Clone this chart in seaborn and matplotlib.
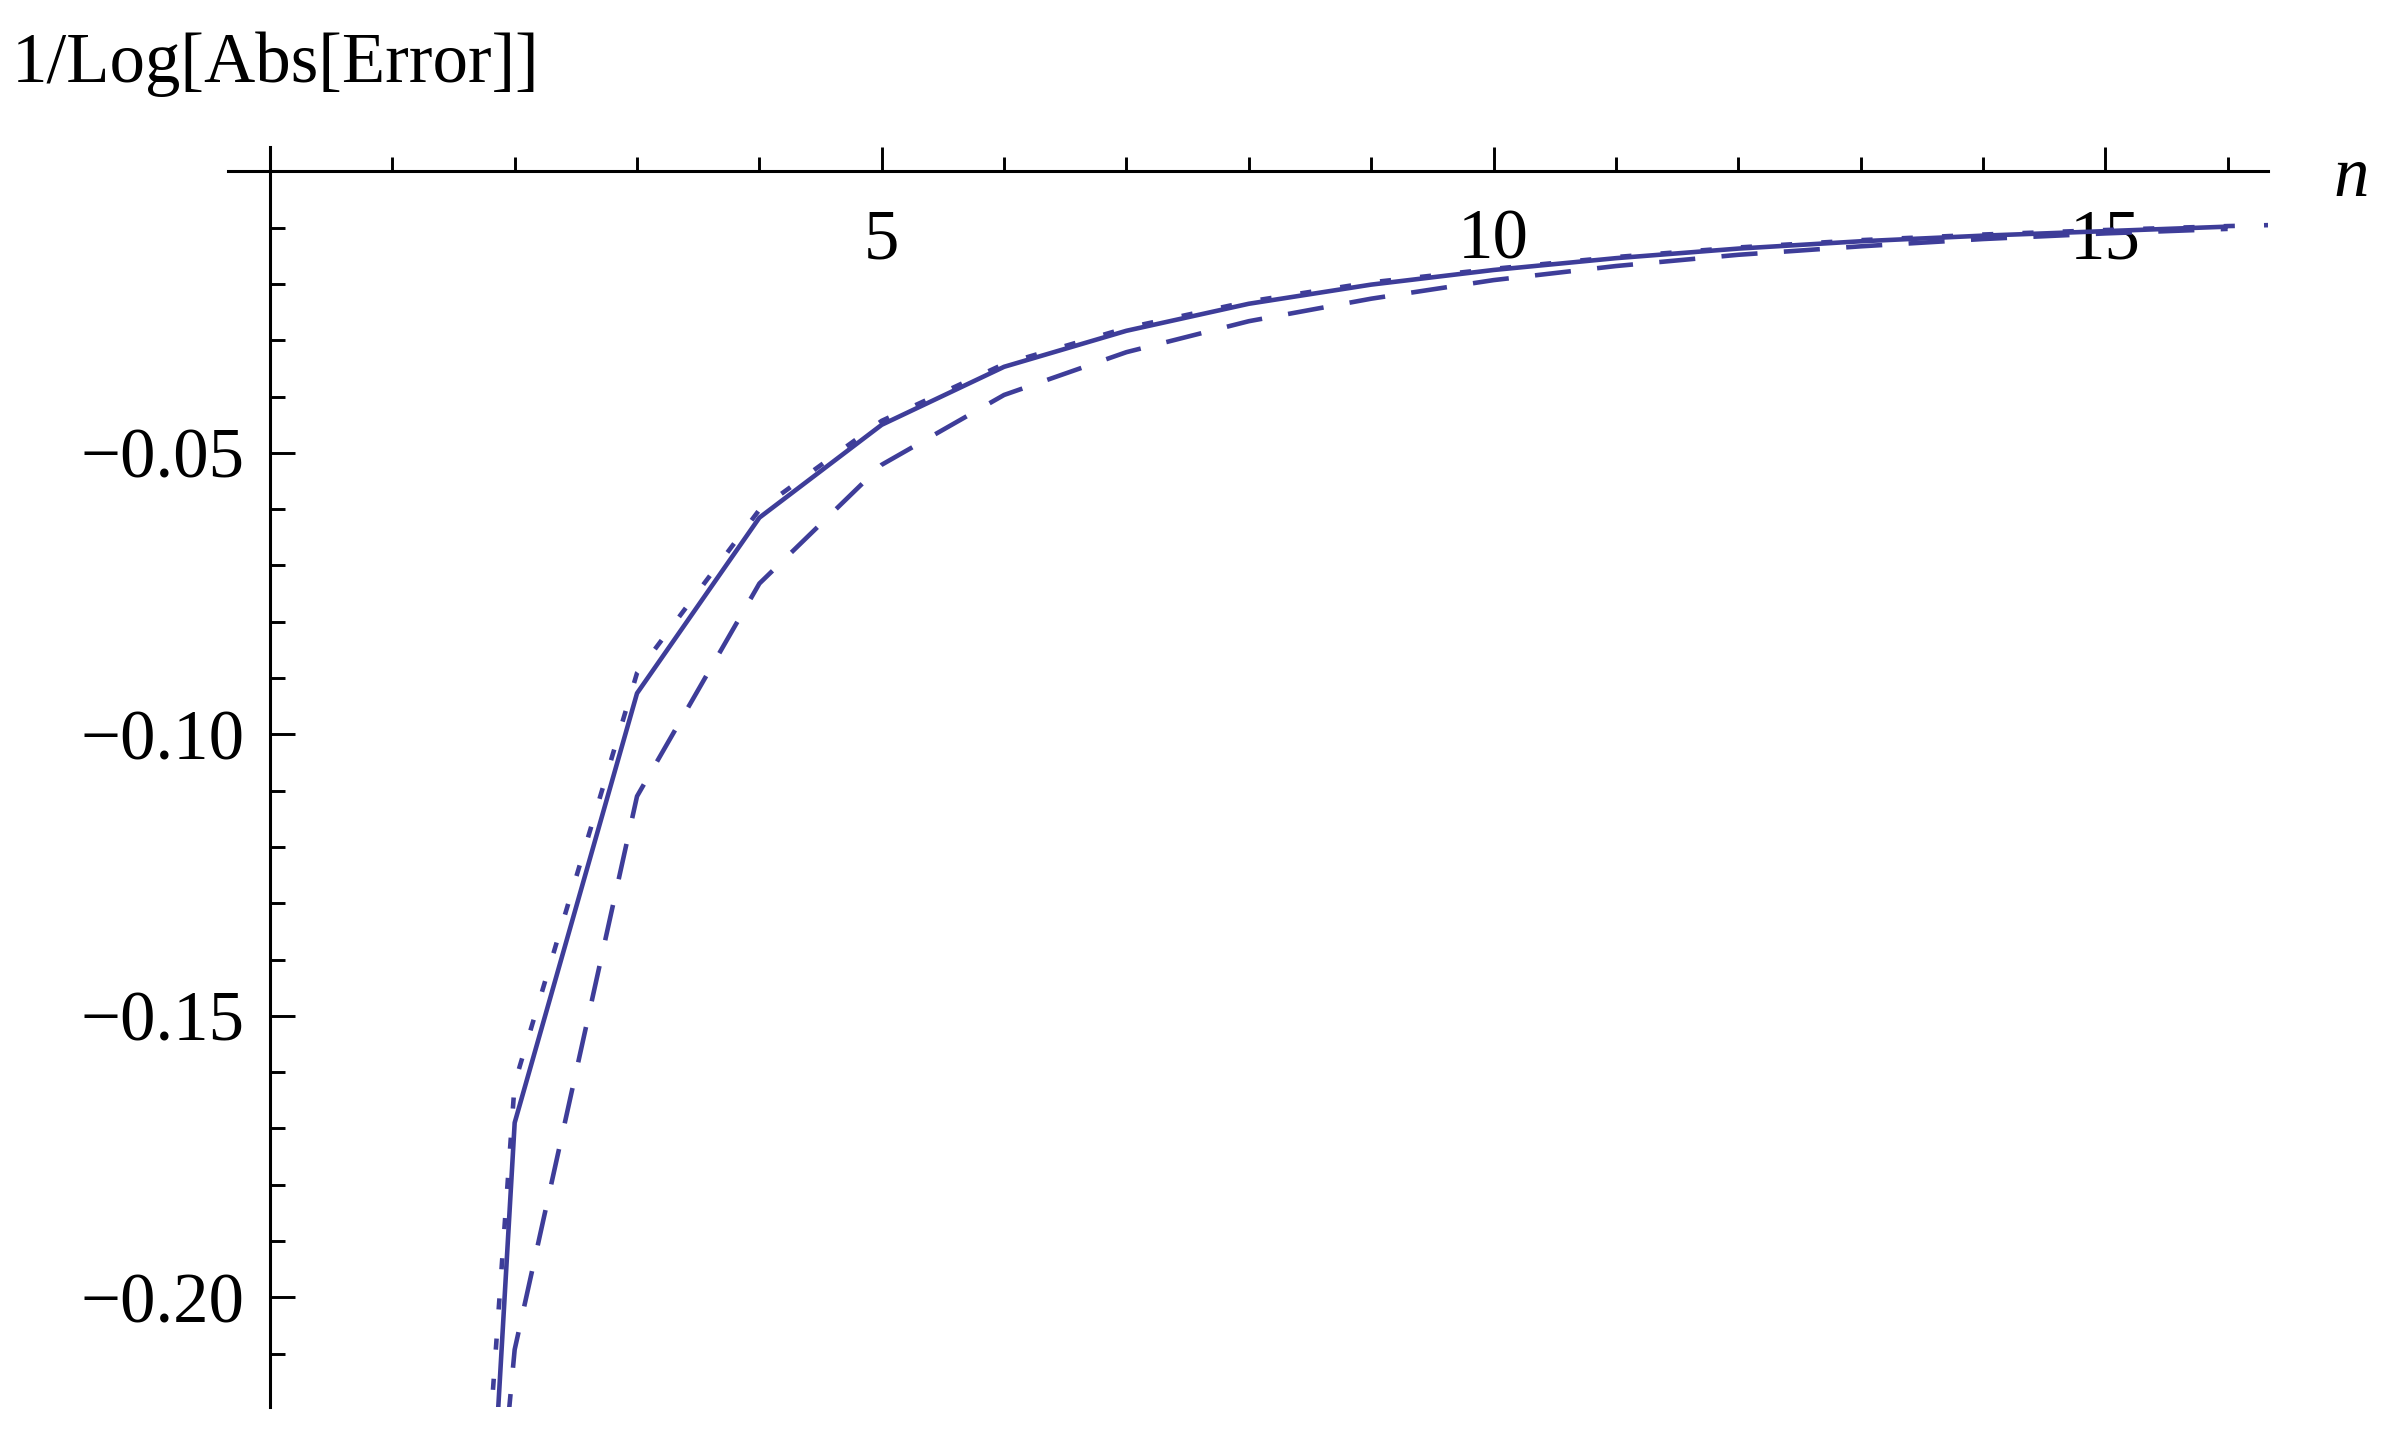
import matplotlib
matplotlib.use("Agg")
import matplotlib.pyplot as plt
import seaborn as sns
import pandas as pd
from matplotlib.ticker import FixedLocator, FuncFormatter

# values
n_solid = list(range(1, 17))
err_solid = [-0.546, -0.169, -0.0927, -0.0615, -0.0450, -0.0347, -0.0283, -0.0235,
             -0.0201, -0.0175, -0.0154, -0.0137, -0.0124, -0.0114, -0.0106, -0.0098]

n_dotted = list(range(1, 18))
err_dotted = [-0.469, -0.162, -0.0891, -0.0601, -0.0443, -0.0342, -0.0278, -0.0231,
              -0.0197, -0.0173, -0.0152, -0.0135, -0.0122, -0.0112, -0.0104, -0.0097,
              -0.0092]

n_dashed = list(range(1, 17))
err_dashed = [-0.443, -0.2093, -0.111, -0.0732, -0.0521, -0.0397, -0.0321, -0.0266,
              -0.0226, -0.0193, -0.0168, -0.0148, -0.0133, -0.0120, -0.0110, -0.0102]

x_major = [5, 10, 15]
x_minor = [1, 2, 3, 4, 6, 7, 8, 9, 11, 12, 13, 14, 16]
y_major = [-0.05, -0.10, -0.15, -0.20]
y_minor = [-0.01 * k for k in range(1, 22) if k % 5 != 0]

y_title = "1/Log[Abs[Error]]"
x_title = "n"

df = pd.concat([
    pd.DataFrame({"n": n_solid, "err": err_solid, "kind": "solid"}),
    pd.DataFrame({"n": n_dotted, "err": err_dotted, "kind": "dotted"}),
    pd.DataFrame({"n": n_dashed, "err": err_dashed, "kind": "dashed"}),
], ignore_index=True)

sns.set_style("white")
plt.rcParams["font.family"] = ["Liberation Serif", "DejaVu Serif"]
plt.rcParams["lines.scale_dashes"] = False
plt.rcParams["text.color"] = "black"
plt.rcParams["xtick.color"] = "black"
plt.rcParams["ytick.color"] = "black"

color = "#3e3d99"
fs = 51

fig = plt.figure(figsize=(23.87, 14.29), dpi=100)
ax = fig.add_axes([228 / 2387, 1 - 1407 / 1429, 2040 / 2387, 1260 / 1429])

sns.lineplot(
    data=df, x="n", y="err", style="kind", ax=ax,
    style_order=["solid", "dotted", "dashed"],
    dashes={"solid": "", "dotted": (8, 21), "dashed": (26, 19)},
    color=color, linewidth=3.3, legend=False, estimator=None, sort=False,
)
for line in ax.get_lines():
    line.set_linewidth(3.3)
    line.set_solid_capstyle("butt")

ax.set_xlim(-0.343, 16.33)
ax.set_ylim(-0.2195, 0.00435)

for side in ["top", "right"]:
    ax.spines[side].set_visible(False)
ax.spines["left"].set_position(("data", 0))
ax.spines["bottom"].set_position(("data", 0))
for side in ["left", "bottom"]:
    ax.spines[side].set_linewidth(2.2)
    ax.spines[side].set_color("black")

ax.xaxis.set_major_locator(FixedLocator(x_major))
ax.xaxis.set_minor_locator(FixedLocator(x_minor))
ax.yaxis.set_major_locator(FixedLocator(y_major))
ax.yaxis.set_minor_locator(FixedLocator(y_minor))
ax.yaxis.set_major_formatter(FuncFormatter(lambda v, p: f"{v:.2f}".replace("-", "\u2212")))

ax.tick_params(axis="x", which="both", bottom=True, direction="in", width=2.1,
               color="black")
ax.tick_params(axis="x", which="major", length=17.5, labelsize=fs, pad=27,
               labelcolor="black")
ax.tick_params(axis="x", which="minor", length=10)
ax.tick_params(axis="y", which="both", left=True, direction="in", width=2.1,
               color="black")
ax.tick_params(axis="y", which="major", length=18, labelsize=fs, pad=18,
               labelcolor="black")
ax.tick_params(axis="y", which="minor", length=10.8)

ax.set_xlabel("")
ax.set_ylabel("")
ax.grid(False)

fig.text(12 / 2387, 1 - 82 / 1429, y_title, fontsize=fs, ha="left", va="baseline",
         color="black")
fig.text(2333 / 2387, 1 - 196 / 1429, x_title, fontsize=fs, style="italic",
         ha="left", va="baseline", color="black")

fig.savefig("out.png", dpi=100)
